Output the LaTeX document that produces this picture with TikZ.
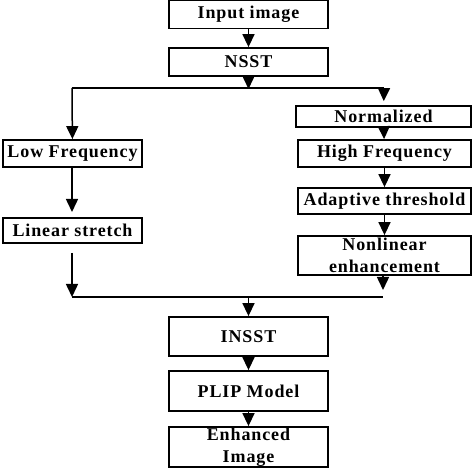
\documentclass[tikz,border=0pt]{standalone}
\usepackage{fontspec}
\setmainfont{Liberation Serif}
\usetikzlibrary{arrows.meta, positioning}
\tikzset{
  fcbox/.style={
    rectangle, draw=black, line width=1.8pt, fill=white, text=black,
    align=center, inner sep=0pt, font=\fcfont},
  fcarr/.style={line width=1.5pt, -{Triangle[length=13pt,width=12pt]}},
  fcline/.style={line width=1.5pt},
}
\newcommand{\fcfont}{\fontsize{18}{22}\selectfont\bfseries\addfontfeatures{LetterSpace=5}}

\begin{document}
\begin{tikzpicture}[x=1pt, y=1pt]
  \useasboundingbox (0,0) rectangle (474,-470);
  %% Middle column
  \node[fcbox, minimum width=159pt, minimum height=28pt] (inp)   at (248.5,-14.5) {Input image};
  \node[fcbox, minimum width=159pt, minimum height=28pt] (nsst)  at (248.5,-62)   {NSST};
  %% Left branch
  \node[fcbox, minimum width=139pt, minimum height=27pt] (low)   at (72.5,-153.5) {Low Frequency};
  \node[fcbox, minimum width=139pt, minimum height=25pt] (lin)   at (72.5,-230.5) {Linear stretch};
  %% Right branch
  \node[fcbox, minimum width=175pt, minimum height=21pt] (norm)  at (383.5,-116.5) {Normalized};
  \node[fcbox, minimum width=173pt, minimum height=27pt] (high)  at (384.5,-153.5) {High Frequency};
  \node[fcbox, minimum width=173pt, minimum height=26pt] (adapt) at (384.5,-201)   {Adaptive threshold};
  \node[fcbox, minimum width=173pt, minimum height=39pt] (nonlin) at (384.5,-255.5) {Nonlinear\\enhancement};
  %% Bottom column
  \node[fcbox, minimum width=159pt, minimum height=39pt] (insst) at (248.5,-336.5) {INSST};
  \node[fcbox, minimum width=159pt, minimum height=40pt] (plip)  at (248.5,-391)   {PLIP Model};
  \node[fcbox, minimum width=159pt, minimum height=40pt] (enh)   at (248.5,-447)   {Enhanced\\Image};
  %% Split and merge points
  \coordinate (split)  at (248.5,-89);
  \coordinate (lsplit) at (72,-88);
  \coordinate (rsplit) at (384,-88);
  \coordinate (lmerge) at (72,-297);
  \coordinate (rmerge) at (383,-297);
  \coordinate (merge)  at (248.5,-297);
  \coordinate (lintop) at (72,-218);
  \coordinate (linbot) at (72,-253);
  \coordinate (nlbot)  at (383,-275);
  %% Arrows
  \draw[fcarr] (inp) -- (nsst);
  \draw[fcarr] (nsst) -- (split);
  \draw[fcline] (lsplit) -- (rsplit);
  \draw[fcarr] (lsplit) -- (low);
  \draw[fcarr, shorten >=4pt] (rsplit) -- (norm);
  \draw[fcarr] (norm) -- (high);
  \draw[fcarr] (high) -- (adapt);
  \draw[fcarr] (adapt) -- (nonlin);
  \draw[fcarr, shorten >=6pt] (low.south -| lintop) -- (lintop);
  \draw[fcarr] (linbot) -- (lmerge);
  \draw[fcarr, shorten >=7pt] (nlbot) -- (rmerge);
  \draw[fcline] (lmerge) -- (rmerge);
  \draw[fcarr] (merge) -- (insst);
  \draw[fcarr] (insst) -- (plip);
  \draw[fcarr] (plip) -- (enh);
\end{tikzpicture}
\end{document}
